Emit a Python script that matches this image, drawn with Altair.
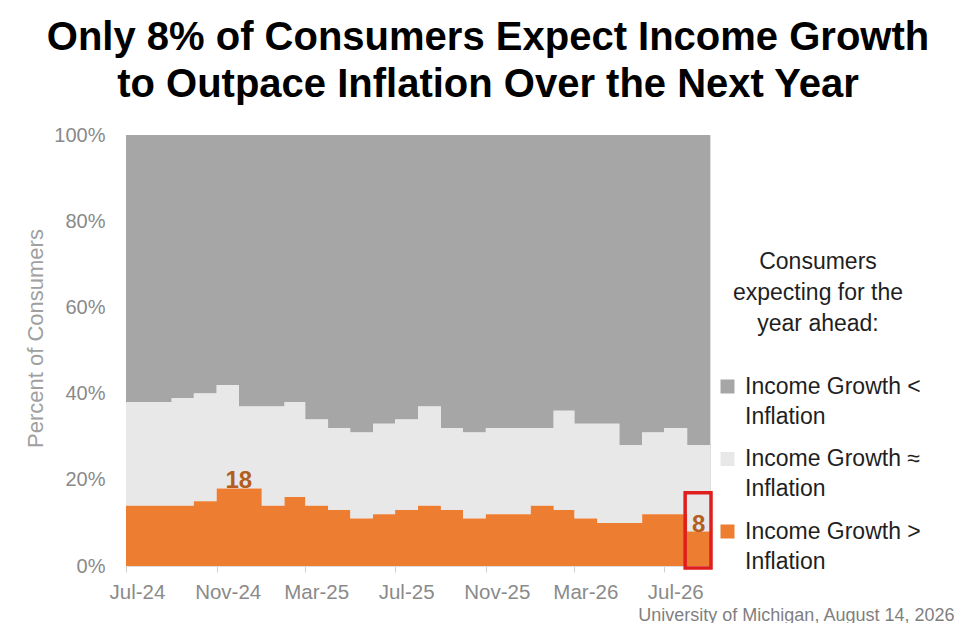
import altair as alt
import pandas as pd

# ---- data (percent of consumers) ----
months = ["2024-07", "2024-08", "2024-09", "2024-10", "2024-11", "2024-12",
          "2025-01", "2025-02", "2025-03", "2025-04", "2025-05", "2025-06",
          "2025-07", "2025-08", "2025-09", "2025-10", "2025-11", "2025-12",
          "2026-01", "2026-02", "2026-03", "2026-04", "2026-05", "2026-06",
          "2026-07", "2026-08"]
income_gt = [14, 14, 14, 15, 18, 18, 14, 16, 14, 13, 11, 12, 13,
             14, 13, 11, 12, 12, 14, 13, 11, 10, 10, 12, 12, 8]
income_approx = [24, 24, 25, 25, 24, 19, 23, 22, 20, 19, 20, 21, 21,
                 23, 19, 20, 20, 20, 18, 23, 22, 23, 18, 19, 20, 20]
income_lt = [62, 62, 61, 60, 58, 63, 63, 62, 66, 68, 69, 67, 66,
             63, 68, 69, 68, 68, 68, 64, 67, 67, 72, 69, 68, 72]

series_names = ["Income Growth <|Inflation",
                "Income Growth \u2248|Inflation",
                "Income Growth >|Inflation"]
series_colors = ["#A6A6A6", "#E8E8E8", "#ED7D31"]
series_rank = [2, 1, 0]

tick_months = ["2024-07", "2024-11", "2025-03", "2025-07", "2025-11", "2026-03", "2026-07"]
end_month = "2026-09"

ann_month = ["2024-12", "2026-08"]
ann_value = [18, 8]
ann_text = ["18", "8"]
ann_dy = [-11, -10]

box_month = ["2026-08"]
box_top = [17]

title_lines = ["Only 8% of Consumers Expect Income Growth",
               "to Outpace Inflation Over the Next Year"]
legend_title = ["Consumers", "expecting for the", "year ahead:"]
source_text = "University of Michigan, August 14, 2026"

# ---- tables ----
def ts(m):
    return pd.Timestamp(m + "-01")

rows = []
all_months = months + [end_month]
for i, m in enumerate(all_months):
    j = min(i, len(months) - 1)  # extra end row closes the last step
    for name, vals, rk in zip(series_names, [income_lt, income_approx, income_gt], series_rank):
        rows.append({"date": ts(m), "series": name, "value": vals[j], "rank": rk})
df = pd.DataFrame(rows)

ann = pd.DataFrame({"value": ann_value, "text": ann_text, "dy": ann_dy})
ann["date"] = [ts(m) if k == 0 else ts(m) + (ts(end_month) - ts(m)) / 2
               for k, m in enumerate(ann_month)]

box = pd.DataFrame({"start": [ts(m) for m in box_month],
                    "end": [ts(end_month)],
                    "bottom": [0], "top": box_top})

FONT = "Liberation Sans"

def dt(m):
    y, mo = m.split("-")
    return alt.DateTime(year=int(y), month=int(mo), date=1)

x_scale = alt.Scale(domain=[dt(months[0]), dt(end_month)], nice=False)
y_scale = alt.Scale(domain=[0, 100], nice=False)

area = alt.Chart(df).mark_area(interpolate="step-after").encode(
    x=alt.X("date:T", scale=x_scale,
            axis=alt.Axis(values=[dt(m) for m in tick_months], format="%b-%y",
                          labelOffset=11, tickSize=6, tickColor="#cfcfcf",
                          domainColor="#dcdcdc", grid=False,
                          labelFont=FONT, labelFontSize=20.5, labelColor="#8a8a8a",
                          labelPadding=10, labelFlush=False, labelOverlap=False,
                          title=source_text, titleFont=FONT, titleFontSize=18,
                          titleFontWeight="normal", titleColor="#7f7f7f",
                          titleX=828, titleY=54, titleAlign="right",
                          titleBaseline="alphabetic", titleAngle=0)),
    y=alt.Y("value:Q", stack="zero", scale=y_scale,
            axis=alt.Axis(values=[0, 20, 40, 60, 80, 100],
                          labelExpr="datum.value + '%'",
                          tickSize=0, domain=False, grid=False,
                          labelFont=FONT, labelFontSize=20, labelColor="#8a8a8a",
                          labelPadding=21,
                          title="Percent of Consumers", titleFont=FONT,
                          titleFontSize=22, titleFontWeight="normal",
                          titleColor="#a0a0a0", titleX=-91, titleY=203,
                          titleAngle=270, titleAlign="center",
                          titleBaseline="middle")),
    color=alt.Color("series:N",
                    scale=alt.Scale(domain=series_names, range=series_colors),
                    legend=alt.Legend(
                        title=legend_title, orient="none", legendX=590, legendY=116,
                        padding=0, offset=0,
                        titleFont=FONT, titleFontSize=23, titleFontWeight="normal",
                        titleColor="#1f1f1f", titleAlign="center", titleAnchor="middle",
                        titleLineHeight=31, titlePadding=39,
                        labelExpr="split(datum.label, '|')", labelFont=FONT,
                        labelFontSize=23, labelColor="#1f1f1f", labelLimit=0,
                        labelOffset=6, labelBaseline="middle",
                        symbolType="square", symbolSize=196, symbolStrokeWidth=0,
                        symbolOpacity=1, rowPadding=18.5)),
    order=alt.Order("rank:Q", sort="ascending"),
)

labels = alt.Chart(ann).mark_text(font=FONT, fontSize=24, fontWeight="bold",
                                  color="#B35E1E", baseline="alphabetic",
                                  align="center").encode(
    x=alt.X("date:T", scale=x_scale),
    y=alt.Y("value:Q", scale=y_scale),
    text="text:N",
    yOffset="dy:Q",
)

frame = alt.Chart(box).mark_rect(filled=False, stroke="#E01E1E", strokeWidth=3.5,
                                 xOffset=-2, x2Offset=1, yOffset=2).encode(
    x=alt.X("start:T", scale=x_scale),
    x2="end:T",
    y=alt.Y("bottom:Q", scale=y_scale),
    y2="top:Q",
)

chart = alt.layer(area, labels, frame).properties(
    width=584, height=431,
    autosize=alt.AutoSizeParams(type="none"),
    padding={"left": 118, "top": 127, "right": 248, "bottom": 57},
    title=alt.TitleParams(text=title_lines, font=FONT, fontSize=40, fontWeight="bold",
                          color="#000000", lineHeight=47, anchor="middle",
                          frame="group", dx=70, offset=20),
).configure_view(strokeWidth=0).configure(style={"guide-label": {"lineHeight": 30}})

chart.save("out.html", embed_options={"renderer": "svg", "actions": False})
